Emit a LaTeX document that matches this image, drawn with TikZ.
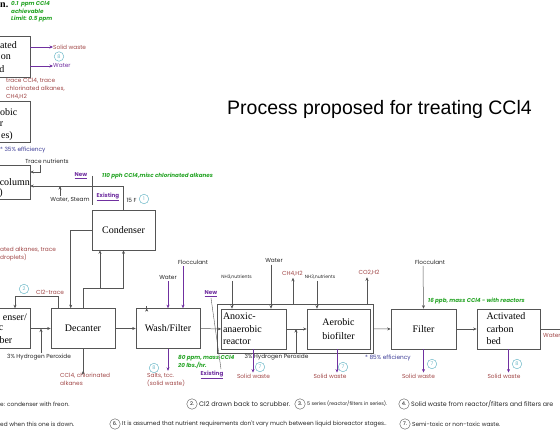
\documentclass[tikz,border=0pt]{standalone}
\usepackage{fontspec}
\setmainfont{Liberation Serif}
\newfontfamily\lblfont{Poppins}
\newfontfamily\titlefont{Liberation Sans}
\usetikzlibrary{arrows.meta,calc}
\definecolor{brn}{RGB}{160,70,70}
\definecolor{purp}{RGB}{112,48,160}
\definecolor{grn}{RGB}{40,165,40}
\definecolor{effb}{RGB}{60,60,150}
\definecolor{tealc}{RGB}{110,185,200}
\definecolor{lgray}{RGB}{85,85,85}
\tikzset{
  box/.style={draw=lgray, line width=0.6pt, inner sep=0pt, font=\fontsize{10}{12}\selectfont, align=center},
  openbox/.style={draw=none, inner sep=0pt, minimum width=30pt},
  flow/.style={draw=lgray, line width=0.5pt, -{Stealth[length=3.5pt,width=3pt]}},
  pflow/.style={flow, draw=purp},
  lbl/.style={font=\lblfont\fontsize{5.8}{8}\selectfont, inner sep=0pt, text=black!85},
  slbl/.style={lbl, font=\lblfont\fontsize{4.6}{6}\selectfont},
  blbl/.style={lbl, text=brn},
  glbl/.style={font=\lblfont\bfseries\itshape\fontsize{5.6}{8.2}\selectfont, inner sep=0pt, text=grn},
  circ/.style={circle, draw=tealc, line width=0.5pt, inner sep=0pt, minimum size=9.5pt, font=\lblfont\fontsize{5}{5}\selectfont, text=tealc},
  ncirc/.style={circle, draw=lgray, line width=0.4pt, inner sep=0pt, minimum size=10.5pt, font=\lblfont\fontsize{5}{5}\selectfont},
  frag/.style={font=\fontsize{10}{12}\selectfont, inner sep=0pt, anchor=east},
  ul/.style={lbl, text=purp, font=\lblfont\bfseries\fontsize{5.6}{7}\selectfont}
}
\begin{document}
\begin{tikzpicture}[x=1pt,y=-1pt]
\useasboundingbox (0,0) rectangle (560,433);

% ---------- top left ----------
\node[font=\fontsize{10}{12}\selectfont\bfseries, anchor=west, inner sep=0pt] (ttl) at (0,5) {n.};
\node[glbl, anchor=north west, align=left, font=\lblfont\bfseries\itshape\fontsize{5.6}{7.5}\selectfont] (lim) at (11,1.5) {0.1\ \ ppm CCl4\\achievable\\Limit: 0.5 ppm};

% box 1 (activated carbon bed, cut)
\node[openbox, minimum height=40pt] (acb) at (15,57) {};
\draw[lgray, line width=0.6pt] ($(acb.north west)+(-1,0)$) -- (acb.north east) -- (acb.south east) -- ($(acb.south west)+(-1,0)$);
\node[frag] (f1a) at (17,45) {ated};
\node[frag] (f1b) at (11,57) {on};
\node[frag] (f1c) at (4.5,69) {d};
\node[blbl, anchor=west] (sw0) at (53,47) {Solid waste};
\node[lbl, anchor=west, text=purp] (w0) at (53,66) {Water};
\draw[pflow] (acb.east |- sw0.west) -- (sw0.west);
\draw[pflow] (acb.east |- w0.west) -- (w0.west);
\node[circ] (c8a) at (59,56.5) {8};
\node[blbl, anchor=north west, align=left] (trc) at (6,78) {trace CCl4, trace\\chlorinated alkanes,\\CH4,H2};

% box 2 (aerobic reactor, cut)
\node[openbox, minimum height=40pt] (aer3) at (15,122) {};
\draw[lgray, line width=0.6pt] ($(aer3.north west)+(-1,0)$) -- (aer3.north east) -- (aer3.south east) -- ($(aer3.south west)+(-1,0)$);
\node[frag] (f2a) at (17.5,112) {obic};
\node[frag] (f2b) at (3.5,124) {r};
\node[frag] (f2c) at (13,136) {es)};
\node[lbl, anchor=west, text=effb] (eff1) at (0,150) {* 35\% efficiency};

% box 3 (stripping column, cut)
\node[openbox, minimum height=33pt] (strip) at (15,182.5) {};
\draw[lgray, line width=0.6pt] ($(strip.north west)+(-1,0)$) -- (strip.north east) -- (strip.south east) -- ($(strip.south west)+(-1,0)$);
\node[frag] (f3a) at (30,182) {column};
\node[frag] (f3b) at (3,193) {)};
\node[lbl] (tn) at (47,161) {Trace nutrients};
\coordinate (tnk) at (40,172);
\draw[flow] (tnk |- tn.south) ++(0,2) -- (tnk) -- (strip.east |- tnk);

% ---------- condenser region ----------
\node[box, minimum width=63pt, minimum height=40pt] (cond) at (123.5,230) {Condenser};
\coordinate (jn) at (0,186);
\draw[flow] (cond.north) -- (cond.north |- jn) -- (strip.east |- jn);
\node[lbl, anchor=north] (wst) at (70,197) {Water, Steam};
\coordinate (wsx) at (60,0);
\draw[flow] (wsx |- wst.north) ++(0,-1) -- (wsx |- jn);
\coordinate (sep1) at (92,176);
\draw[lgray, line width=0.4pt] (sep1) -- ++(0,29);
\node[ul] (new1) at (81,176) {\underline{New}};
\node[ul] (ex1) at (108,197) {\underline{Existing}};
\node[lbl] (t15) at (131.5,200) {15 F};
\node[circ] (c1) at (144,199) {1};
\node[glbl, anchor=west] (pph) at (102,176) {110 pph CCl4,misc chlorinated alkanes};
\node[blbl, anchor=north west, align=left] (cad) at (0,247.5) {ated alkanes, trace\\droplets)};

% decanter, scrubber, wash/filter
\node[box, minimum width=64pt, minimum height=40pt] (dec) at (83,328.5) {Decanter};
\node[openbox, minimum height=40pt] (scr) at (15,328.5) {};
\draw[lgray, line width=0.6pt] ($(scr.north west)+(-1,0)$) -- (scr.north east) -- (scr.south east) -- ($(scr.south west)+(-1,0)$);
\node[frag] (f4a) at (27,317) {enser/};
\node[frag] (f4b) at (3.5,328) {c};
\node[frag] (f4c) at (12.5,340) {ber};
\node[box, minimum width=64pt, minimum height=40pt] (wf) at (168,328.5) {Wash/Filter};

\draw[flow] (cond.west) -| ($(dec.north west)+(20,0)$);
\coordinate (vap) at (0,288);
\draw[flow] (dec.north) |- (cond.south |- vap) -- (cond.south);
\draw[flow] (cond.south -| 100,0) ++(0,38) -- ++(0,-38);
\draw[flow] ($(wf.north west)+(11,0)$) -- ($(wf.north west)+(11,0)$ |- cond.south);
\draw[flow] ($(dec.north west)+(8,0)$) -- ++(0,-11.5) -| (scr.north);
\node[blbl] (cl2) at (50,292.5) {Cl2-trace};
\node[circ] (c2) at (24,289) {2};
\draw[flow] (scr.east) -- (dec.west);
\node[lbl] (hp1) at (39,357) {3\% Hydrogen Peroxide};
\coordinate (hp1x) at (41,0);
\draw[flow] (hp1x |- hp1.north) ++(0,-1) -- (hp1x |- scr.east);
\draw[flow] (dec.east) -- (wf.west);
\node[blbl, anchor=north west, align=left] (dout) at (60,373) {CCl4, chlorinated\\alkanes};
\draw[flow] (dec.south) -- (dec.south |- dout.north) ++(0,-2);

\node[lbl] (wfw) at (168,278) {Water};
\draw[pflow] (wfw.south) ++(0,1) -- (wf.north);
\node[lbl] (floc1) at (193,262) {Flocculant};
\coordinate (flx) at (183,0);
\draw[pflow] (flx |- floc1.south) ++(0,1.5) -- (flx |- wf.north);
\node[blbl, anchor=north west, align=left] (salts) at (147,373) {Salts, tcc.\\(solid waste)};
\draw[pflow] (wf.south) -- ++(0,22);
\node[circ] (c8b) at (154,368) {8};
\node[glbl, anchor=north west, align=left] (ppm80) at (178,355) {80 ppm, mass CCl4\\20 lbs./hr.};

% ---------- new bioreactor section ----------
\node[draw=lgray, line width=0.6pt, minimum width=155.5pt, minimum height=49.5pt, inner sep=0pt] (newbox) at (295.25,328.75) {};
\node[box, minimum width=65pt, minimum height=40pt, align=left, text width=62pt, font=\fontsize{10}{12.5}\selectfont] (anox) at (254,329) {Anoxic-\\anaerobic\\reactor};
\node[box, minimum width=63pt, minimum height=40pt, font=\fontsize{10}{14}\selectfont] (aerb) at (338.5,329) {Aerobic\\biofilter};
\node[ul] (new2) at (211,294) {\underline{New}};
\node[ul] (ex2) at (212,375) {\underline{Existing}};
\coordinate (dg1) at (211,298);
\draw[lgray, line width=0.4pt] (dg1) -- ++(10,71);
\draw[flow] (wf.east) -- (anox.west);
\draw[flow] (anox.east) -- (aerb.west);

\node[slbl] (nh1) at (236.5,277) {NH3,nutrients};
\coordinate (nh1x) at (232,0);
\draw[flow] (nh1x |- nh1.south) ++(0,1.5) -- (nh1x |- anox.north);
\node[lbl] (wan) at (274,261) {Water};
\coordinate (wanx) at (271,0);
\draw[flow] (wanx |- wan.south) ++(0,1.5) -- (wanx |- anox.north);
\node[blbl] (ch4) at (292.5,273.5) {CH4,H2};
\coordinate (ch4x) at (293,0);
\draw[flow] (ch4x |- newbox.north) -- ($(ch4x |- ch4.south)+(0,1.5)$);
\node[slbl] (nh2) at (320,277) {NH3,nutrients};
\coordinate (nh2x) at (317,0);
\draw[flow] (nh2x |- nh2.south) ++(0,1.5) -- (nh2x |- aerb.north);
\node[blbl] (co2) at (369,273) {CO2,H2};
\coordinate (co2x) at (367,0);
\draw[flow] (co2x |- newbox.north) -- ($(co2x |- co2.south)+(0,1.5)$);

\node[lbl] (hp2) at (276.5,357) {3\% Hydrogen Peroxide};
\coordinate (hp2x) at (296,0);
\draw[flow] (hp2x |- hp2.north) ++(0,-1) -- (hp2x |- anox.east);

\node[blbl] (swa) at (253.5,376) {Solid waste};
\coordinate (swax) at (253,0);
\draw[pflow] (swax |- anox.south) -- ($(swax |- swa.north)+(0,-1)$);
\node[circ] (c7a) at (260,367) {7};
\node[blbl] (swb) at (330,376) {Solid waste};
\coordinate (swbx) at (337,0);
\draw[pflow] (swbx |- aerb.south) -- ($(swbx |- swb.north)+(0,-1)$);
\node[circ] (c7b) at (343,367) {7};
\node[lbl, anchor=west, text=effb] (eff2) at (365,358) {* 85\% efficiency};

% ---------- filter and carbon bed ----------
\node[box, minimum width=65pt, minimum height=40pt] (filt) at (423.5,329) {Filter};
\node[box, minimum width=63pt, minimum height=40pt, align=left, text width=44pt, font=\fontsize{10}{12.5}\selectfont] (acb2) at (508.5,329) {Activated\\carbon\\bed};
\draw[flow] (newbox.east) -- (filt.west);
\draw[flow] (filt.east) -- (acb2.west);
\node[lbl] (floc2) at (430,262) {Flocculant};
\coordinate (fl2x) at (423,0);
\draw[flow] (fl2x |- floc2.south) ++(0,1.5) -- (filt.north);
\node[glbl, anchor=west] (ppb) at (428,301) {16 ppb, mass CCl4 - with reactors};
\node[blbl] (swc) at (418.5,376) {Solid waste};
\draw[pflow] (filt.south) -- ($(filt.south |- swc.north)+(0,-1)$);
\node[circ] (c7c) at (432,364) {7};
\node[blbl] (swd) at (504,376) {Solid waste};
\draw[pflow] (acb2.south) -- ($(acb2.south |- swd.north)+(0,-1)$);
\node[circ] (c8c) at (517,364) {8};
\coordinate (wout) at (560,329);
\draw[lgray, line width=0.5pt] (acb2.east) -- (wout);
\node[blbl, anchor=west] (wtr) at (543,336) {Water};

% ---------- title ----------
\node[font=\titlefont\fontsize{19.5}{22}\selectfont, anchor=west, inner sep=0pt] (title) at (227,109) {Process proposed for treating CCl4};

% ---------- notes ----------
\node[lbl, anchor=west] (n1) at (0,404) {e: condenser with freon.};
\node[lbl, anchor=west] (n5) at (0,424) {ed when this one is down.};
\node[ncirc] (nc2) at (192,404) {2.};
\node[lbl, anchor=west, font=\lblfont\fontsize{6.5}{8}\selectfont] (n2) at (199,404) {Cl2 drawn back to scrubber.};
\node[ncirc] (nc3) at (300,404) {3.};
\node[lbl, anchor=west, font=\lblfont\fontsize{4.9}{8}\selectfont] (n3) at (307,404) {5 series (reactor/filters in series).};
\node[ncirc] (nc4) at (404,404) {4.};
\node[lbl, anchor=west, font=\lblfont\fontsize{6.3}{8}\selectfont] (n4) at (411,404) {Solid waste from reactor/filters and filters are};
\node[ncirc] (nc6) at (115,424) {6.};
\node[lbl, anchor=west] (n6) at (122,424) {It is assumed that nutrient requirements don't vary much between liquid bioreactor stages..};
\node[ncirc] (nc7) at (405,424) {7.};
\node[lbl, anchor=west] (n7) at (412,424) {Semi-toxic or non-toxic waste.};
\end{tikzpicture}
\end{document}
